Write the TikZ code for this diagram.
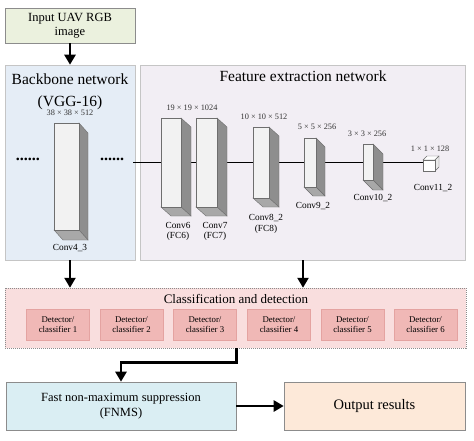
\documentclass[tikz,border=0pt]{standalone}
\usepackage{fontspec}
\setmainfont{Liberation Serif}
\usetikzlibrary{arrows.meta}
\definecolor{inputfill}{HTML}{EBF1DE}
\definecolor{bbfill}{HTML}{E5EDF6}
\definecolor{fefill}{HTML}{F2EEF4}
\definecolor{cdfill}{HTML}{F9DEDE}
\definecolor{detfill}{HTML}{F0B8B6}
\definecolor{detborder}{HTML}{E4A3A1}
\definecolor{fnmsfill}{HTML}{DAEEF3}
\definecolor{outfill}{HTML}{FDE9D9}
\definecolor{boxborder}{HTML}{8C8C8C}
\definecolor{frontfill}{HTML}{F2F2F2}
\definecolor{sidegray}{HTML}{8E8E8E}
\definecolor{botgray}{HTML}{A8A8A8}
\definecolor{edgegray}{HTML}{6E6E6E}
\tikzset{
  panel/.style={draw=boxborder, line width=0.6pt, inner sep=0pt},
  arr/.style={line width=2.6pt, -{Triangle[length=10pt,width=11pt]}},
  dimlab/.style={font=\fontsize{8.3}{9}\selectfont, text=black!80, inner sep=0pt},
  convlab/.style={font=\fontsize{9.3}{10.8}\selectfont, align=center, inner sep=0pt},
  detbox/.style={draw=detborder, fill=detfill, line width=0.5pt, minimum width=63pt, minimum height=31pt, inner sep=0pt, align=center, font=\fontsize{8.8}{10.5}\selectfont},
  frontface/.style={draw=edgegray, line width=0.4pt, fill=frontfill, inner sep=0pt}
}
\newcommand\myprism[7]{%
  \filldraw[fill=sidegray, draw=edgegray, line width=0.4pt] (#4,#3) -- (#4+#6,#3+#7) -- (#4+#6,#5+#7) -- (#4,#5) -- cycle;
  \filldraw[fill=botgray, draw=edgegray, line width=0.4pt] (#2,#5) -- (#4,#5) -- (#4+#6,#5+#7) -- (#2+#6,#5+#7) -- cycle;
  \node[frontface, minimum width={(#4-#2)*1pt}, minimum height={(#5-#3)*1pt}] (#1) at ({(#2+#4)/2},{(#3+#5)/2}) {};
}
\begin{document}
\begin{tikzpicture}[x=1pt,y=-1pt]
\useasboundingbox[fill=white] (0,0) rectangle (474,440);

% input
\node[panel, fill=inputfill, minimum width=130pt, minimum height=35pt, align=center, font=\fontsize{12.5}{14}\selectfont] (inp) at (70,25.5) {Input UAV RGB\\image};

% backbone and feature panels
\node[panel, draw=boxborder!50, fill=bbfill, minimum width=130pt, minimum height=195pt] (bb) at (70,162.5) {};
\node[panel, draw=boxborder!50, fill=fefill, minimum width=325pt, minimum height=195pt] (fe) at (302.5,162.5) {};
\node[align=center, font=\fontsize{15.5}{22}\selectfont, inner sep=0pt] (bbt) at (70,92) {Backbone network\\(VGG-16)};
\node[font=\fontsize{15.5}{18}\selectfont, inner sep=0pt] (fet) at (303,76) {Feature extraction network};

% dots
\node[font=\fontsize{16}{16}\selectfont\bfseries, inner sep=0pt] (dotsL) at (28,159) {......};
\node[font=\fontsize{16}{16}\selectfont\bfseries, inner sep=0pt] (dotsR) at (112,159) {......};
\coordinate (lstart) at (133,162);
\coordinate (lend) at (423,162);
\draw[line width=1pt] (lstart) -- (lend);

% blocks
\myprism{c43}{54}{123}{79}{230}{9}{10}
\myprism{c6}{161}{118}{181}{207}{10}{9}
\myprism{c7}{196}{118}{217}{207}{10}{9}
\myprism{c8}{253}{127}{269}{198}{10}{9}
\myprism{c9}{304}{138}{316}{187}{9}{9}
\myprism{c10}{363}{144}{373}{180}{10}{10}
% small cube conv11_2
\filldraw[fill=white, draw=edgegray, line width=0.4pt] (423,160) -- (427,156) -- (439,156) -- (435,160) -- cycle;
\filldraw[fill=white!92!black, draw=edgegray, line width=0.4pt] (435,160) -- (439,156) -- (439,167) -- (435,171) -- cycle;
\node[draw=edgegray, line width=0.4pt, fill=white, minimum width=12pt, minimum height=11pt, inner sep=0pt] (c11) at (429,165.5) {};

% labels
\node[dimlab] (d43) at (70,113) {38 × 38 × 512};
\node[convlab] (l43) at (70,248) {Conv4\_3};
\node[dimlab] (d6) at (192,108) {19 × 19 × 1024};
\node[convlab] (l6) at (178,231.5) {Conv6\\(FC6)};
\node[convlab] (l7) at (215,231.5) {Conv7\\(FC7)};
\node[dimlab] (d8) at (264,117) {10 × 10 × 512};
\node[convlab] (l8) at (266,224) {Conv8\_2\\(FC8)};
\node[dimlab] (d9) at (317,127) {5 × 5 × 256};
\node[convlab] (l9) at (313,206) {Conv9\_2};
\node[dimlab] (d10) at (367,134) {3 × 3 × 256};
\node[convlab] (l10) at (373,198) {Conv10\_2};
\node[dimlab] (d11) at (430,149) {1 × 1 × 128};
\node[convlab] (l11) at (433,188) {Conv11\_2};

% classification
\node[draw=boxborder, dash pattern=on 1pt off 1pt, line width=0.5pt, fill=cdfill, minimum width=461pt, minimum height=60pt, inner sep=0pt] (cd) at (235.5,318) {};
\node[font=\fontsize{13}{15}\selectfont, inner sep=0pt] (cdt) at (236,299) {Classification and detection};
\node[detbox] (det1) at (58,324.5) {Detector/\\classifier 1};
\node[detbox] (det2) at (131.5,324.5) {Detector/\\classifier 2};
\node[detbox] (det3) at (205,324.5) {Detector/\\classifier 3};
\node[detbox] (det4) at (279,324.5) {Detector/\\classifier 4};
\node[detbox] (det5) at (352.5,324.5) {Detector/\\classifier 5};
\node[detbox] (det6) at (425.5,324.5) {Detector/\\classifier 6};

% bottom boxes
\node[panel, fill=fnmsfill, minimum width=230pt, minimum height=48pt, align=center, font=\fontsize{12.5}{15}\selectfont] (fnms) at (121,406) {Fast non-maximum suppression\\(FNMS)};
\node[panel, fill=outfill, minimum width=181pt, minimum height=48pt, font=\fontsize{14.5}{16}\selectfont] (out) at (374.5,406) {Output results};

% arrows
\draw[arr] (inp.south) -- (bb.north);
\draw[arr] (bb.south) -- (bb.south |- cd.north);
\draw[arr] (fe.south -| fet.south) -- (fet.south |- cd.north);
\draw[arr] (det3.east |- cd.south) -- ++(0,14) -| (fnms.north);
\draw[arr] (fnms.east) -- (out.west);
\end{tikzpicture}
\end{document}
